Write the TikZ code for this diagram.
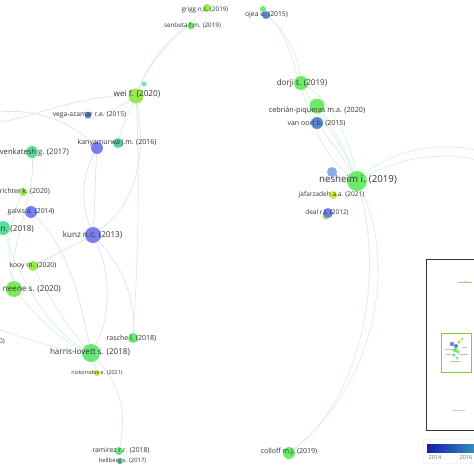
\documentclass[tikz,border=0pt]{standalone}
\usepackage{fontspec}
\setmainfont{Open Sans}
\definecolor{labc}{HTML}{333333}
\definecolor{egc}{HTML}{D6F3D8}
\definecolor{ebc}{HTML}{DFE1EF}
\definecolor{cGreen}{HTML}{5FE85A}
\definecolor{cLime}{HTML}{8EE63C}
\definecolor{cYel}{HTML}{C8E828}
\definecolor{cTeal}{HTML}{40C8A0}
\definecolor{cMint}{HTML}{48DC8C}
\definecolor{cBlue}{HTML}{4A78CC}
\definecolor{cPurp}{HTML}{6C70EE}
\definecolor{cSky}{HTML}{78A8E4}
\tikzset{
  bub/.style={circle, inner sep=0pt, draw=none, minimum size={2*#1}},
  lbl/.style={font=\fontsize{#1}{#1}\selectfont, text=labc, inner sep=0pt},
  eg/.style={draw=egc, line width=0.7pt},
  eb/.style={draw=ebc, line width=0.7pt},
}
\begin{document}
\begin{tikzpicture}[x=1pt,y=-1pt]
\useasboundingbox (0,0) rectangle (474,474);
\clip (0,0) rectangle (474,474);
\fill[white] (0,0) rectangle (474,474);

% ---------- free ends
\coordinate (L1) at (0,112);
\coordinate (L2) at (0,122);
\coordinate (L3) at (0,330);
\coordinate (R1) at (476,150);
\coordinate (R2) at (476,160);

% ---------- bubble anchors (named)
\node[bub=4] (grigg) at (207,8) {};
\node[bub=3.5] (senb) at (191,26) {};
\node[bub=2.5] (sm1) at (144,84) {};
\node[bub=7.5] (wei) at (136,96) {};
\node[bub=3.5] (vega) at (88,115) {};
\node[bub=5] (kany) at (118,143) {};
\node[bub=6] (kanyb) at (97,148) {};
\node[bub=6] (venk) at (32,152) {};
\node[bub=4] (rich) at (23,192) {};
\node[bub=6] (galv) at (31,212) {};
\node[bub=7] (m18) at (3,228) {};
\node[bub=8] (kunz) at (93,235) {};
\node[bub=5] (kooy) at (33,266) {};
\node[bub=8] (neene) at (14,289) {};
\node[bub=5] (rasche) at (133,338) {};
\node[bub=9] (harris) at (91,353) {};
\node[bub=3] (nizk) at (97,373) {};
\node[bub=4] (ramir) at (119,451) {};
\node[bub=3] (hellb) at (120,461) {};
\node[bub=3] (ojeag) at (263,9) {};
\node[bub=4] (ojea) at (266,15) {};
\node[bub=7] (dorji) at (301,83) {};
\node[bub=7.5] (cebr) at (317,106) {};
\node[bub=6] (vanoort) at (317,123) {};
\node[bub=5] (nesb) at (332,172) {};
\node[bub=10] (nesh) at (357,181) {};
\node[bub=4] (jafa) at (333,195) {};
\node[bub=3.5] (dealg) at (326,216) {};
\node[bub=5] (deal) at (328,213) {};
\node[bub=6] (coll) at (289,453) {};

% ---------- connectors
\path[eb] (L1) .. controls (40,108) and (75,125) .. (kanyb);
\path[eb] (L2) .. controls (30,118) and (80,95) .. (wei);
\path[eb] (wei) .. controls (115,110) and (90,120) .. (vega);
\path[eb] (kanyb) .. controls (80,180) and (82,205) .. (kunz);
\path[eb] (kanyb) .. controls (95,180) and (95,205) .. (kunz);
\path[eb] (wei) .. controls (145,150) and (140,200) .. (kunz);
\path[eb] (kunz) .. controls (112,275) and (110,320) .. (harris);
\path[eb] (kunz) .. controls (125,270) and (135,300) .. (rasche);
\path[eb] (kunz) -- (kooy);
\path[eb] (galv) .. controls (70,250) and (80,300) .. (harris);
\path[eg] (wei) .. controls (140,180) and (138,260) .. (rasche);
\path[eg] (wei) .. controls (128,115) and (122,125) .. (kany);
\path[eg] (senb) .. controls (165,40) and (145,70) .. (wei);
\path[eg] (grigg) .. controls (180,30) and (150,60) .. (wei);
\path[eg] (venk) .. controls (35,200) and (10,240) .. (neene);
\path[eg] (rich) .. controls (10,220) and (5,250) .. (neene);
\path[eg] (m18) .. controls (20,280) and (50,330) .. (harris);
\path[eg] (neene) .. controls (40,320) and (60,340) .. (harris);
\path[eg] (kooy) .. controls (50,300) and (70,330) .. (harris);
\path[eg] (L3) .. controls (30,340) and (60,350) .. (harris);
\path[eg] (harris) .. controls (125,390) and (125,420) .. (ramir);
\path[eg] (harris) -- (nizk);
\path[eg] (ojea) .. controls (290,35) and (298,60) .. (dorji);
\path[eg] (ojea) .. controls (300,40) and (300,140) .. (nesh);
\path[eg] (dorji) .. controls (315,110) and (340,140) .. (nesh);
\path[eg] (dorji) .. controls (330,100) and (350,140) .. (nesh);
\path[eg] (cebr) .. controls (335,130) and (345,150) .. (nesh);
\path[eb] (vanoort) .. controls (330,140) and (345,160) .. (nesh);
\path[eg] (nesh) .. controls (385,155) and (430,140) .. (R1);
\path[eg] (nesh) .. controls (395,160) and (440,150) .. (R2);
\path[eg] (nesh) .. controls (385,280) and (360,400) .. (coll);
\path[eg] (nesh) .. controls (395,260) and (380,380) .. (coll);

% ---------- bubbles
\foreach \n/\r/\c in {grigg/4/cLime, senb/3.5/cGreen, sm1/2.5/cTeal!70!white,
  wei/7.5/cLime, vega/3.5/cBlue, kany/5/cTeal, kanyb/6/cPurp,
  venk/6/cMint, rich/4/cLime, galv/6/cPurp, m18/7/cMint,
  kunz/8/cPurp, kooy/5/cLime, neene/8/cGreen!60!cLime,
  rasche/5/cGreen!80!cMint, harris/9/cGreen!70!cMint, nizk/3/cYel,
  ramir/4/cGreen!70!cMint, hellb/3/cTeal, ojeag/3/cGreen,
  ojea/4/cBlue, dorji/7/cGreen, cebr/7.5/cGreen,
  vanoort/6/cBlue, nesb/5/cSky, nesh/10/cGreen,
  jafa/4/cYel, dealg/3.5/cLime, deal/5/cPurp!80!cBlue,
  coll/6/cGreen}
  {\fill[\c, opacity=0.9] (\n.center) circle (\r);}

% ---------- labels
\node[lbl=6.3] (tgrigg) at (205,10) {grigg n.s. (2019)};
\node[lbl=6.3] (tsenb) at (192.5,26) {senbeta f.m. (2019)};
\node[lbl=8.2] (twei) at (137,94) {wei f. (2020)};
\node[lbl=6.7] (tvega) at (89.5,115) {vega-azamar r.e. (2015)};
\node[lbl=7] (tkany) at (117,143) {kanyamurwa j.m. (2016)};
\node[lbl=7.6, anchor=east] (tvenk) at (69,153) {venkatesh g. (2017)};
\node[lbl=6.8, anchor=east] (trich) at (50,191) {richter k. (2020)};
\node[lbl=6.8] (tgalv) at (31,212) {galvis a. (2014)};
\node[lbl=8.1, anchor=east] (tm18) at (34,229) {n. (2018)};
\node[lbl=8.1] (tkunz) at (92.5,235) {kunz n.c. (2013)};
\node[lbl=6.8] (tkooy) at (33,266) {kooy m. (2020)};
\node[lbl=8.1, anchor=east] (tneene) at (61,289) {neene s. (2020)};
\node[lbl=6.5, anchor=east] (t0) at (5,342) {0)};
\node[lbl=7] (trasche) at (131.5,338) {rasche l. (2018)};
\node[lbl=8.1] (tharris) at (90,352) {harris-lovett s. (2018)};
\node[lbl=5.4] (tnizk) at (97,373) {nizkorodov e. (2021)};
\node[lbl=6.8] (tramir) at (121,451) {ramirez r.r. (2018)};
\node[lbl=5.9] (thellb) at (122.5,461) {hellberg s. (2017)};
\node[lbl=6.8] (tojea) at (266.5,15) {ojea e. (2015)};
\node[lbl=8.1] (tdorji) at (302,83) {dorji t. (2019)};
\node[lbl=7.2] (tcebr) at (317,111) {cebrián-piqueras m.a. (2020)};
\node[lbl=7] (tvan) at (316.5,123) {van oort b. (2015)};
\node[lbl=9.7] (tnesh) at (358,180) {nesheim i. (2019)};
\node[lbl=6.5] (tjafa) at (331.5,195) {jafarzadeh a.a. (2021)};
\node[lbl=6.5] (tdeal) at (327,213) {deal r.l. (2012)};
\node[lbl=7] (tcoll) at (289,452) {colloff m.j. (2019)};

% ---------- overview map
\node[draw=black!80, line width=0.8pt, fill=white, inner sep=0pt, minimum width=50pt, minimum height=171pt, anchor=north west] (mini) at (426,259) {};
\draw[black!30, line width=0.3pt] (458,282) -- (472,282);
\fill[cYel] (466,282) circle (1.2);
\node[draw=cLime!90!black, line width=1.2pt, inner sep=0pt, minimum width=30pt, minimum height=39pt, anchor=north west] (view) at (441,333) {};
\foreach \x/\y/\c/\r in {452/344/cPurp/2.2, 456/346/cBlue/2, 459/342/cLime/1.8, 462/339/cLime/1.5,
  455/350/cGreen/2.2, 458/352/cGreen/1.8, 454/355/cMint/1.6, 457/358/cGreen/1.5}
  {\fill[\c, opacity=0.9] (\x,\y) circle (\r);}
\foreach \x/\y/\w in {445/349/8, 446/354/7, 459/354/9, 450/361/10, 462/347/5}
  {\draw[black!25, line width=0.6pt] (\x,\y) -- ++(\w,0);}
\draw[black!20, line width=0.5pt] (452,410) -- (465,410);

% ---------- colour legend
\node[draw=black!12, fill=white, rounded corners=2pt, inner sep=0pt, minimum width=58pt, minimum height=24pt, anchor=north west] (legend) at (423,439) {};
\shade[left color=blue!65!black!90, right color=cTeal!80!blue] (427,444) rectangle (481,452);
\node[lbl=5.5, text=black!60] (y1) at (435,458) {2014};
\node[lbl=5.5, text=black!60] (y2) at (466,458) {2016};
\end{tikzpicture}
\end{document}
